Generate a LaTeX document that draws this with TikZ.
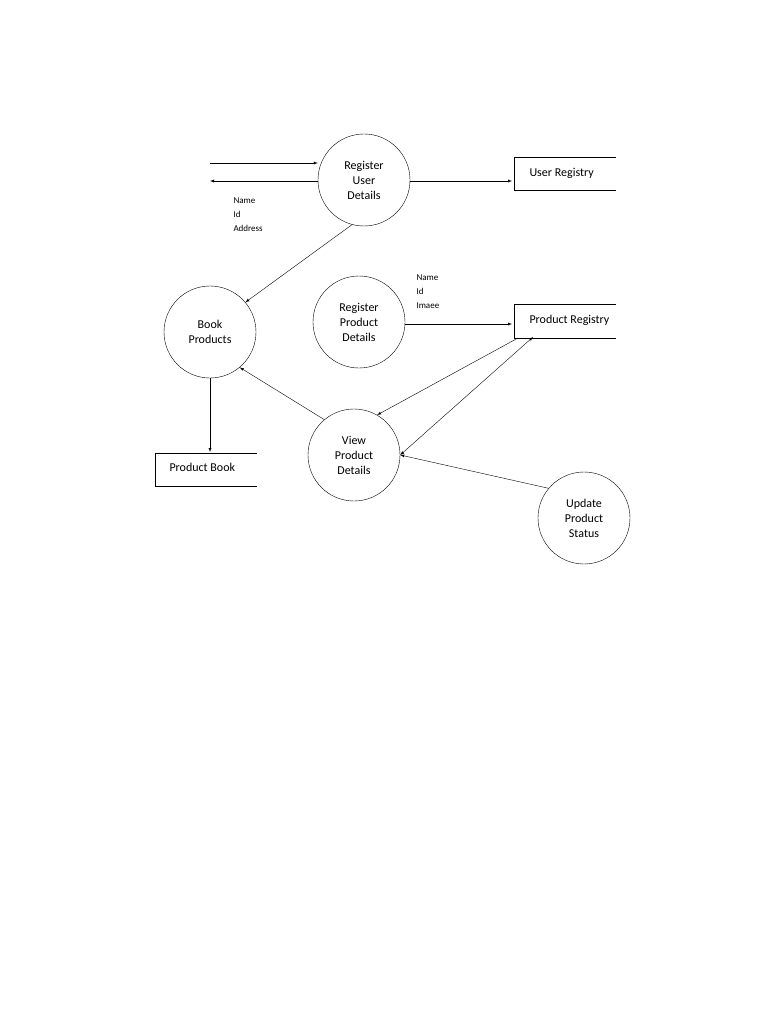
\documentclass[tikz,border=0pt]{standalone}
\usepackage{fontspec}
\setmainfont{Carlito}
\begin{document}
\begin{tikzpicture}[x=1pt, y=-1pt, font=\fontsize{12}{15}\selectfont, >=latex,
    proc/.style={draw, circle, minimum size=92pt, inner sep=0pt, align=center},
    small/.style={font=\fontsize{9}{14}\selectfont, align=left, anchor=north west}]
    \useasboundingbox (0,0) rectangle (768,1024);
    % processes
    \node[proc] (reguser) at (364,180) {Register\\User\\Details};
    \node[proc] (book) at (210,332) {Book\\Products};
    \node[proc] (regprod) at (359,322) {Register\\Product\\Details};
    \node[proc] (view) at (354,455) {View\\Product\\Details};
    \node[proc] (update) at (584,518) {Update\\Product\\Status};
    % data stores
    \draw (616,157)--(514,157)--(514,190)--(616,190);
    \node[anchor=west] (userreg) at (526,173) {User Registry};
    \draw (616,304)--(514,304)--(514,338)--(616,338);
    \node[anchor=west] (prodreg) at (526,320) {Product Registry};
    \draw (257,453)--(155,453)--(155,486)--(257,486);
    \node[anchor=west] (prodbook) at (166,467) {Product Book};
    \coordinate (inA) at (210,163);
    \coordinate (outA) at (210,181);
    \coordinate (ureg) at (512,181);
    \coordinate (preg) at (512,324);
    \coordinate (pregA) at (518,338);
    \coordinate (pregB) at (533,337);
    \coordinate (pbook) at (210,452);
    % flows
    \draw[->] (inA)--(reguser.west |- inA);
    \draw[->] (reguser.west |- outA)--(outA);
    \node[small] (lblA) at (230,194) {Name\\Id\\Address};
    \draw[->] (reguser.east |- ureg)--(ureg);
    \draw[->] (reguser.255)--(book.40);
    \draw[->] (book.south)--(pbook);
    \draw[->] (regprod.east |- preg)--(preg);
    \node[small] (lblB) at (413,271) {Name\\Id\\Imaee};
    \draw[->] (view.130)--(book.310);
    \draw[->] (pregA)--(view.60);
    \draw[<->] (view.east)--(pregB);
    \draw[->] (update.140)--(view.east);
\end{tikzpicture}
\end{document}
